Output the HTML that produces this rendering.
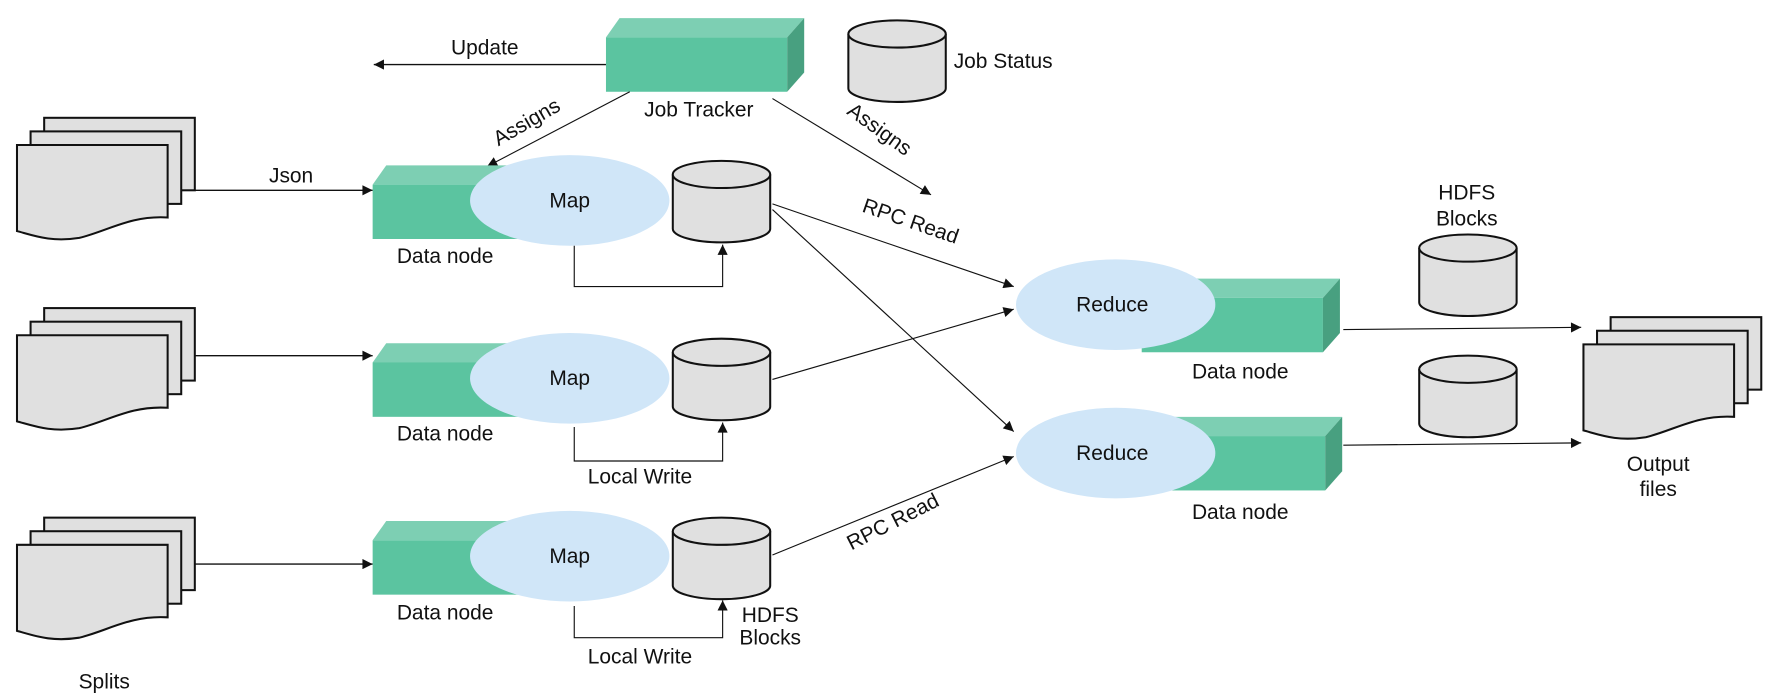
<!DOCTYPE html>
<html><head><style>html,body{margin:0;padding:0;background:#fff}svg{display:block}text{font-family:"Liberation Sans",Arial,sans-serif;font-size:18.5px;fill:#111}</style></head>
<body>
<svg width="1776" height="700" viewBox="0 0 1568 618" xmlns="http://www.w3.org/2000/svg">
<defs>
<marker id="a" viewBox="0 0 10 10" refX="10" refY="5" markerWidth="10" markerHeight="9" orient="auto" markerUnits="userSpaceOnUse"><path d="M0,0L10,5L0,10z" fill="#111"/></marker>
<g id="cyl"><path d="M0,12 L0,60 A43,12 0 0 0 86,60 L86,12" fill="#e0e0e0" stroke="#111" stroke-width="1.8"/><ellipse cx="43" cy="12" rx="43" ry="12" fill="#e0e0e0" stroke="#111" stroke-width="1.8"/></g>
<g id="doc">
<rect x="24" y="0" width="133" height="64" fill="#e0e0e0" stroke="#111" stroke-width="1.8"/>
<rect x="12" y="12" width="133" height="64" fill="#e0e0e0" stroke="#111" stroke-width="1.8"/>
<path d="M0,24 L133,24 L133,88 C100,86 80,100 55,106 C30,110 15,104 0,100 Z" fill="#e0e0e0" stroke="#111" stroke-width="1.8"/>
</g>
<g id="box"><path d="M12,0 L175,0 L160,17 L0,17 Z" fill="#7dcfb3"/><rect x="0" y="17" width="160" height="48" fill="#5bc4a0"/><path d="M160,17 L175,0 L175,48 L160,65 Z" fill="#48a080"/></g>
</defs>

<use href="#box" x="535" y="16"/>
<text x="617" y="103" text-anchor="middle">Job Tracker</text>
<use href="#cyl" x="749" y="18"/>
<text x="842" y="60">Job Status</text>
<line x1="535" y1="57" x2="330" y2="57" stroke="#111" stroke-width="1.2" marker-end="url(#a)"/>
<text x="428" y="48" text-anchor="middle">Update</text>
<line x1="556" y1="81" x2="430" y2="147" stroke="#111" stroke-width="1" marker-end="url(#a)"/>
<text transform="translate(468,113) rotate(-30)" text-anchor="middle">Assigns</text>
<line x1="682" y1="87" x2="822" y2="172" stroke="#111" stroke-width="1" marker-end="url(#a)"/>
<text transform="translate(773,119) rotate(36)" text-anchor="middle">Assigns</text>

<use href="#doc" x="15" y="104"/>
<use href="#doc" x="15" y="272"/>
<use href="#doc" x="15" y="457"/>
<text x="92" y="608" text-anchor="middle">Splits</text>
<line x1="172" y1="168" x2="329" y2="168" stroke="#111" stroke-width="1.2" marker-end="url(#a)"/>
<text x="257" y="161" text-anchor="middle">Json</text>
<line x1="172" y1="314" x2="329" y2="314" stroke="#111" stroke-width="1.2" marker-end="url(#a)"/>
<line x1="172" y1="498" x2="329" y2="498" stroke="#111" stroke-width="1.2" marker-end="url(#a)"/>

<use href="#box" x="329" y="146"/><ellipse cx="503" cy="177" rx="88" ry="40" fill="#d0e6f8"/><text x="503" y="183" text-anchor="middle">Map</text>
<use href="#cyl" x="594" y="142"/><text x="393" y="232" text-anchor="middle">Data node</text>
<polyline points="507,217 507,253 638,253 638,216" fill="none" stroke="#111" stroke-width="1" marker-end="url(#a)"/>

<use href="#box" x="329" y="303"/><ellipse cx="503" cy="334" rx="88" ry="40" fill="#d0e6f8"/><text x="503" y="340" text-anchor="middle">Map</text>
<use href="#cyl" x="594" y="299"/><text x="393" y="389" text-anchor="middle">Data node</text>
<polyline points="507,377 507,407 638,407 638,373" fill="none" stroke="#111" stroke-width="1" marker-end="url(#a)"/>
<text x="565" y="427" text-anchor="middle">Local Write</text>

<use href="#box" x="329" y="460"/><ellipse cx="503" cy="491" rx="88" ry="40" fill="#d0e6f8"/><text x="503" y="497" text-anchor="middle">Map</text>
<use href="#cyl" x="594" y="457"/><text x="393" y="547" text-anchor="middle">Data node</text>
<polyline points="507,535 507,563 638,563 638,530" fill="none" stroke="#111" stroke-width="1" marker-end="url(#a)"/>
<text x="565" y="586" text-anchor="middle">Local Write</text>
<text x="680" y="549" text-anchor="middle">HDFS</text><text x="680" y="569" text-anchor="middle">Blocks</text>

<line x1="682" y1="180" x2="895" y2="253" stroke="#111" stroke-width="1" marker-end="url(#a)"/>
<text transform="translate(802,201) rotate(19)" text-anchor="middle">RPC Read</text>
<line x1="682" y1="185" x2="895" y2="381" stroke="#111" stroke-width="1" marker-end="url(#a)"/>
<line x1="682" y1="335" x2="895" y2="273" stroke="#111" stroke-width="1" marker-end="url(#a)"/>
<line x1="682" y1="490" x2="895" y2="403" stroke="#111" stroke-width="1" marker-end="url(#a)"/>
<text transform="translate(791,466) rotate(-27)" text-anchor="middle">RPC Read</text>

<use href="#box" x="1008" y="246"/><ellipse cx="985" cy="269" rx="88" ry="40" fill="#d0e6f8"/><text x="982" y="275" text-anchor="middle">Reduce</text>
<text x="1095" y="334" text-anchor="middle">Data node</text>
<use href="#box" x="1010" y="368"/><ellipse cx="985" cy="400" rx="88" ry="40" fill="#d0e6f8"/><text x="982" y="406" text-anchor="middle">Reduce</text>
<text x="1095" y="458" text-anchor="middle">Data node</text>

<line x1="1186" y1="291" x2="1396" y2="289" stroke="#111" stroke-width="1" marker-end="url(#a)"/>
<line x1="1186" y1="393" x2="1396" y2="391" stroke="#111" stroke-width="1" marker-end="url(#a)"/>

<text x="1295" y="176" text-anchor="middle">HDFS</text><text x="1295" y="199" text-anchor="middle">Blocks</text>
<use href="#cyl" x="1253" y="207"/>
<use href="#cyl" x="1253" y="314"/>

<use href="#doc" x="1398" y="280"/>
<text x="1464" y="416" text-anchor="middle">Output</text><text x="1464" y="438" text-anchor="middle">files</text>
</svg>
</body></html>
